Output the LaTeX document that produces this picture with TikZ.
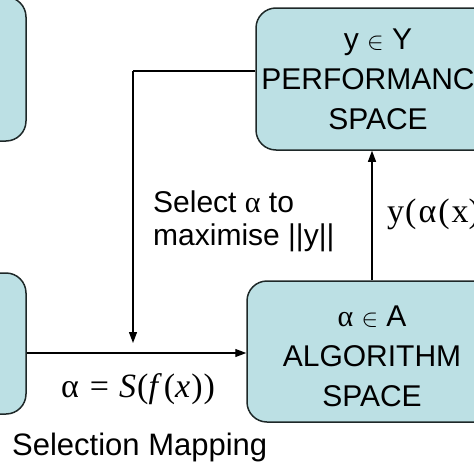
\documentclass[tikz,border=0pt]{standalone}
\usepackage{fontspec}
\setmainfont{Liberation Sans}
\newfontfamily\seriff{Liberation Serif}
\usetikzlibrary{arrows.meta}
\definecolor{boxfill}{RGB}{188,224,228}
\definecolor{boxline}{RGB}{30,40,40}
\tikzset{
  space/.style={draw=boxline, line width=1.5pt, fill=boxfill, rounded corners=20pt,
    inner sep=0pt, align=center, font=\fontsize{30}{40}\selectfont},
  conn/.style={line width=1.2pt, -{Triangle[length=11pt,width=8pt]}},
  plain/.style={line width=1.2pt},
  lbl/.style={inner sep=0pt, font=\fontsize{30}{33}\selectfont, align=left},
}
\begin{document}
\begin{tikzpicture}[x=1pt,y=-1pt]
\useasboundingbox (0,0) rectangle (474,474);
\clip (0,0) rectangle (474,474);
\node[space, minimum width=200pt, minimum height=144pt] (lefttop) at (-74,69) {};
\node[space, minimum width=200pt, minimum height=141pt] (leftbot) at (-74,343.5) {};
\node[space, minimum width=244pt, minimum height=142pt] (perf) at (378,79)
  {y $\in$ Y\\PERFORMANCE\\SPACE};
\node[space, minimum width=250pt, minimum height=141pt] (alg) at (372,351.5)
  {\rule{0pt}{30pt}{\seriff α} $\in$ A\\ALGORITHM\\SPACE};
\coordinate (turn) at (133,71);
\coordinate (sel) at (133,343);
\coordinate (hline) at (0,353);
\draw[plain] (perf.west |- turn) -- (turn);
\draw[conn] (turn) -- (sel);
\draw[conn] (leftbot.east |- hline) -- (alg.west |- hline);
\draw[conn] (alg.north) -- (alg.north |- perf.south);
\node[lbl, anchor=base west] (selectlbl) at (153,245) {Select {\seriff α} to\\maximise ||y||};
\node[inner sep=0pt, anchor=base west, font=\seriff\fontsize{34}{34}\selectfont] (ylbl) at (387,222)
  {y\kern1pt(\kern2pt α\kern2pt(\kern2pt x))};
\node[inner sep=0pt, anchor=base west, font=\seriff\fontsize{34}{34}\selectfont] (smap) at (61,397)
  {α\hspace{11pt}=\hspace{10pt}\textit{S}\kern1pt(\textit{f}\kern2pt(\textit{x}\kern1pt)\kern1pt)};
\node[inner sep=0pt, anchor=base west, font=\fontsize{31}{31}\selectfont] (selmap) at (12,455) {Selection Mapping};
\end{tikzpicture}
\end{document}
